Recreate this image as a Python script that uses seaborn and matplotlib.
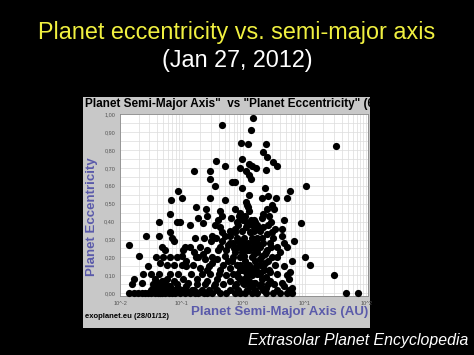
import numpy as np
import pandas as pd
import matplotlib
matplotlib.use('Agg')
import matplotlib.pyplot as plt
import seaborn as sns

# DATA (log10 of semi-major axis in AU, eccentricity)

log_a_eccentric = [
    0.16, -0.34, 0.13, 1.51, -0.03, 0.08, 0.37, 0.32, 0.39, -0.01, -0.44, 0.49, 0.09, -0.30, 0.15, 0.55,
    -0.05, 0.21, -0.79, -0.54, 0.37, 0.04, 0.10, -0.54, 0.13, -0.18, -0.13, -0.45, 1.02, 0.35, -0.01, -1.05,
    0.76, 0.09, -0.99, -1.17, -0.53, 0.40, 0.31, 0.53, 0.71, -0.30, 0.05, 0.06, 0.47, -0.77, 0.08, -0.61,
    0.39, -0.37, 0.10, 0.50, -1.18, 0.32, -0.35, -0.74, -0.59, -0.07, 0.42, -1.37, -1.02, -0.40, -0.20, 0.02,
    0.13, 0.18, -1.08, 0.46, 0.66, 0.94, -0.87, -0.65, -0.46, -0.37, -0.08, 0.05, 0.23, 0.52, -1.19, -0.35,
    -0.21, -0.13, -0.02, 0.11, 0.28, 0.39, 0.63, -0.51, -1.57, -1.36, -1.16, -0.78, -0.63, -0.44, -0.30, -0.10,
    0.02, 0.22, 0.49, 0.63, 0.82, -1.13, -0.52, -0.35, -0.16, -0.05, 0.08, 0.17, 0.33, 0.44, 0.66, -1.86,
    -1.32, -0.94, -0.86, -0.58, -0.70, -0.37, -0.09, 0.03, 0.14, 0.28, 0.55, 0.71, -1.27, -0.97, -0.27, -0.02,
    0.09, 0.22, 0.39, 0.60, -1.69, -1.42, -1.30, -1.19, -1.00, -0.76, -0.73, -1.08, -0.29, -0.16, -0.05, 0.14,
    0.30, 0.47, 1.01, -0.92, -0.62, -0.43, -0.18, 0.03, 0.20, 0.41, 0.79, -1.35, -1.24, -1.13, -1.00, -0.81,
    -0.51, -0.32, -0.10, 0.09, 0.28, 0.52, 0.67, 1.09, -1.54, -0.92, -0.70, -0.59, -0.37, -0.21, -0.02, 0.14,
    0.34, 0.44, 0.76, -1.63, -1.49, -1.36, -1.19, -1.05, -0.84, -0.67, -0.54, -0.39, -0.28, -0.10, 0.06, 0.23,
    0.55, 0.71, 1.47, -1.78, -1.64, -1.43, -1.40, -1.32, -1.24, -1.13, -0.98, -0.89, -0.75, -0.58, -0.43, -0.21,
    -0.05, 0.09, 0.17, 0.30, 0.44, 0.63, 0.74, -1.81, -1.46, -1.38, -1.30, -1.19, -1.08, -0.92, -0.75, -0.62,
    -0.48, -0.32, -0.13, 0.01, 0.14, 0.28, 0.41, 0.66, 0.79,
]
ecc_eccentric = [
    0.98, 0.94, 0.91, 0.82, 0.84, 0.83, 0.83, 0.79, 0.76, 0.75, 0.74, 0.73, 0.72, 0.71, 0.71, 0.71,
    0.70, 0.70, 0.68, 0.68, 0.69, 0.68, 0.66, 0.64, 0.64, 0.62, 0.62, 0.60, 0.60, 0.59, 0.59, 0.57,
    0.57, 0.55, 0.53, 0.52, 0.53, 0.54, 0.53, 0.53, 0.53, 0.52, 0.51, 0.49, 0.49, 0.48, 0.48, 0.47,
    0.47, 0.46, 0.46, 0.47, 0.44, 0.44, 0.43, 0.42, 0.43, 0.43, 0.43, 0.40, 0.40, 0.41, 0.42, 0.41,
    0.41, 0.41, 0.40, 0.40, 0.41, 0.39, 0.38, 0.39, 0.38, 0.37, 0.38, 0.37, 0.38, 0.36, 0.34, 0.34,
    0.35, 0.34, 0.35, 0.34, 0.35, 0.33, 0.36, 0.32, 0.32, 0.32, 0.31, 0.31, 0.31, 0.31, 0.32, 0.31,
    0.31, 0.31, 0.31, 0.32, 0.29, 0.29, 0.29, 0.29, 0.28, 0.29, 0.28, 0.29, 0.28, 0.28, 0.28, 0.27,
    0.26, 0.26, 0.26, 0.24, 0.26, 0.26, 0.26, 0.26, 0.26, 0.26, 0.26, 0.26, 0.24, 0.24, 0.24, 0.23,
    0.24, 0.23, 0.24, 0.23, 0.21, 0.20, 0.20, 0.20, 0.21, 0.20, 0.20, 0.20, 0.21, 0.20, 0.20, 0.20,
    0.21, 0.20, 0.20, 0.18, 0.19, 0.19, 0.18, 0.18, 0.18, 0.18, 0.18, 0.17, 0.16, 0.16, 0.16, 0.16,
    0.17, 0.16, 0.16, 0.16, 0.16, 0.16, 0.15, 0.16, 0.15, 0.15, 0.14, 0.13, 0.13, 0.14, 0.13, 0.13,
    0.13, 0.12, 0.12, 0.11, 0.11, 0.11, 0.11, 0.11, 0.11, 0.11, 0.11, 0.11, 0.10, 0.11, 0.10, 0.11,
    0.11, 0.10, 0.10, 0.08, 0.06, 0.08, 0.06, 0.07, 0.08, 0.07, 0.08, 0.06, 0.08, 0.07, 0.08, 0.07,
    0.08, 0.07, 0.06, 0.08, 0.07, 0.06, 0.08, 0.05, 0.05, 0.04, 0.05, 0.04, 0.05, 0.04, 0.05, 0.05,
    0.04, 0.05, 0.04, 0.05, 0.04, 0.04, 0.05, 0.04, 0.03,
]

# the crowded hot-jupiter block and the crowd around 1 AU
log_a_crowd = [
    -1.46, -1.40, -1.35, -1.30, -1.24, -1.41, -1.36, -1.31, -1.21, -1.27,
    -0.13, -0.05, 0.03, 0.14, 0.25, 0.33, -0.08, 0.01, 0.14, 0.22, 0.30, -0.13, 0.01, 0.17, 0.27, 0.36,
    -0.05, 0.05, 0.21, 0.28, 0.38, -0.08, 0.02, 0.14, 0.50, -0.16, -0.21, -0.24, 0.55, 0.38, 0.47, 0.17,
    0.06, -0.13, -0.21,
    -0.10, 0.00, 0.10, 0.20, 0.30, 0.40, -0.15, -0.03, 0.07, 0.18, 0.26, 0.35, 0.45, -0.05, 0.05, 0.12,
    0.24, 0.32, 0.42, -0.12, 0.00, 0.11, 0.19, 0.29, 0.37,
    -1.50, -1.45, -1.38, -1.33, -1.25, -1.18, -1.10, -1.05, -0.95, -0.88, -0.80, -0.70,
    -0.80, -0.65, -0.50, -0.40, -0.25, -0.55, -0.45,
]
ecc_crowd = [
    0.03, 0.02, 0.03, 0.03, 0.02, 0.05, 0.06, 0.01, 0.04, 0.07,
    0.47, 0.45, 0.43, 0.38, 0.36, 0.37, 0.29, 0.28, 0.31, 0.28, 0.31, 0.23, 0.21, 0.22, 0.19, 0.17,
    0.16, 0.15, 0.15, 0.11, 0.09, 0.09, 0.08, 0.10, 0.05, 0.11, 0.28, 0.18, 0.20, 0.23, 0.34, 0.35,
    0.39, 0.36, 0.32,
    0.40, 0.41, 0.39, 0.40, 0.42, 0.38, 0.25, 0.26, 0.24, 0.25, 0.27, 0.22, 0.26, 0.13, 0.12, 0.14,
    0.12, 0.15, 0.13, 0.05, 0.06, 0.04, 0.06, 0.05, 0.03,
    0.01, 0.04, 0.01, 0.04, 0.01, 0.02, 0.01, 0.03, 0.02, 0.01, 0.02, 0.01,
    0.23, 0.22, 0.20, 0.24, 0.27, 0.15, 0.05,
]

# (nearly) circular orbits along the bottom
log_a_circular = [
    -1.86, -1.78, -1.70, -1.65, -1.59, -1.54, -1.49, -1.43, -1.39, -1.35, -1.31, -1.27, -1.21, -1.16,
    -1.11, -1.02, -0.94, -0.86, -0.78, -0.73, -0.64, -0.58, -0.51, -0.37, -0.27, -0.13, -0.05, 0.03,
    0.14, 0.22, 0.38, 0.49, 0.60, 0.71, 0.79, 1.67, 1.86,
    -1.49, -1.43, -1.38, -1.32, -1.24, -1.13, -1.00, -0.83, -0.67, -0.56, -0.43, -0.21, -0.08, 0.06,
    0.20, 0.33, 0.55, 0.74,
]
ecc_circular = [0.0] * 37 + [0.02] * 18

y_ticks = [0.0, 0.1, 0.2, 0.3, 0.4, 0.5, 0.6, 0.7, 0.8, 0.9, 1.0]
y_tick_labels = ['0,00', '0,10', '0,20', '0,30', '0,40', '0,50', '0,60', '0,70', '0,80', '0,90', '1,00']
x_ticks = [1e-2, 1e-1, 1e0, 1e1, 1e2]
x_tick_labels = ['10^-2', '10^-1', '10^0', '10^1', '10^2']

df = pd.DataFrame({
    'log_a': log_a_eccentric + log_a_crowd + log_a_circular,
    'ecc': ecc_eccentric + ecc_crowd + ecc_circular,
})
df['a'] = 10 ** df['log_a']

# SLIDE

sns.set_style('white')
plt.rcParams['font.family'] = ['Liberation Sans', 'DejaVu Sans']

W, H = 474, 355
fig = plt.figure(figsize=(W / 100, H / 100), dpi=100)
fig.patch.set_facecolor('black')

fig.text(0.5, 1 - 32 / H, 'Planet eccentricity vs. semi-major axis', color='#f0f040',
         fontsize=16.8, ha='center', va='center')
fig.text(0.5, 1 - 60 / H, '(Jan 27, 2012)', color='white', fontsize=16.8, ha='center', va='center')
fig.text(468 / W, 1 - 340 / H, 'Extrasolar Planet Encyclopedia', color='white', fontsize=11.4,
         style='italic', ha='right', va='center')

# gray panel of the embedded chart image
panel = fig.add_axes([83 / W, 1 - 328 / H, 287 / W, 231 / H])
panel.set_facecolor('#c8c8c8')
panel.set_xticks([])
panel.set_yticks([])
for s in panel.spines.values():
    s.set_visible(False)
panel.set_xlim(0, 287)
panel.set_ylim(231, 0)
panel.text(2, 7, 'Planet Semi-Major Axis"  vs "Planet Eccentricity" (625 planets)', fontsize=8.5,
           fontweight='bold', color='black', va='center', ha='left', clip_on=True)
panel.text(2, 220, 'exoplanet.eu (28/01/12)', fontsize=5.5, fontweight='bold', color='black',
           va='center', ha='left')
panel.text(285, 215, 'Planet Semi-Major Axis (AU)', fontsize=9.5, fontweight='bold', color='#5a5aaa',
           va='center', ha='right', clip_on=True)
panel.text(9, 120, 'Planet Eccentricity', fontsize=9.5, fontweight='bold', color='#5a5aaa',
           va='center', ha='center', rotation=90)

# the scatter itself
ax = fig.add_axes([120 / W, 1 - 296 / H, 248 / W, 182 / H])
ax.set_facecolor('white')
sns.scatterplot(data=df, x='a', y='ecc', ax=ax, color='black', s=27, edgecolor='black',
                linewidth=0, legend=False, zorder=3, clip_on=False)
ax.set_xscale('log')
ax.set_xlim(1e-2, 10 ** 2.03)
ax.set_ylim(-0.015, 1.0)
ax.set_xticks(x_ticks)
ax.set_xticklabels(x_tick_labels)
ax.set_yticks(y_ticks)
ax.set_yticklabels(y_tick_labels)
ax.set_yticks(np.arange(0.05, 1.0, 0.1), minor=True)
ax.tick_params(axis='both', which='major', labelsize=4, colors='#555555', length=2, width=0.5, pad=1.5)
ax.tick_params(axis='both', which='minor', length=0)
ax.grid(True, which='both', color='#dcdcdc', linewidth=0.5)
ax.set_axisbelow(True)
ax.set_xlabel('')
ax.set_ylabel('')
for s in ax.spines.values():
    s.set_color('#888888')
    s.set_linewidth(0.6)

fig.savefig('out.png', dpi=100, facecolor='black')
